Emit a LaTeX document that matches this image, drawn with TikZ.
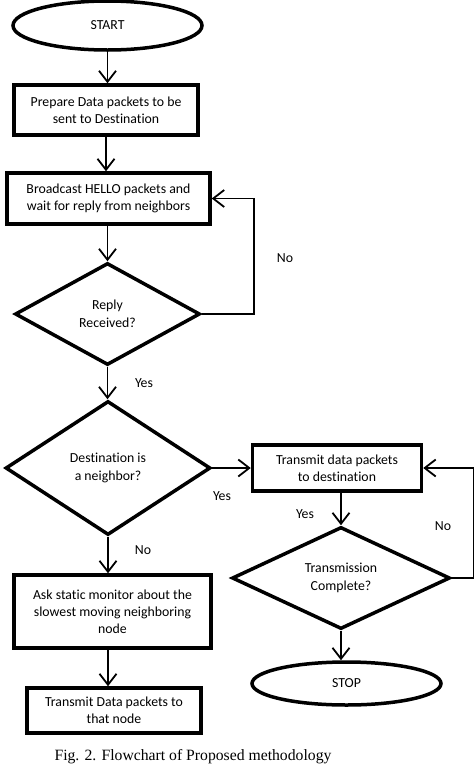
\documentclass[tikz,border=0pt]{standalone}
\usepackage{fontspec}
\setmainfont{Carlito}[Ligatures=CommonOff]
\newfontfamily\capfont{Liberation Serif}
\usetikzlibrary{shapes.geometric,arrows.meta}

\begin{document}
\begin{tikzpicture}[
    x=1pt, y=-1pt,
    term/.style={ellipse, draw, line width=3.5pt, inner sep=0pt, font=\fontsize{13.8}{17}\selectfont},
    proc/.style={rectangle, draw, line width=3.5pt, align=center, inner sep=0pt, font=\fontsize{13.8}{17}\selectfont},
    dec/.style={diamond, draw, line width=3.5pt, align=center, inner sep=0pt, font=\fontsize{13.8}{18}\selectfont},
    arr/.style={-{Straight Barb[length=11pt, width=17pt]}, line width=1.8pt},
    lbl/.style={font=\fontsize{13.8}{17}\selectfont}
]
    \useasboundingbox (0,0) rectangle (474,769);

    % left column
    \node [term, minimum width=189pt, minimum height=49pt] (start) at (107.5,25.5) {START};
    \node [proc, minimum width=184pt, minimum height=50pt] (prep) at (106,110) {Prepare Data packets to be\\sent to Destination};
    \node [proc, minimum width=203pt, minimum height=51pt] (hello) at (108.5,198.5) {Broadcast HELLO packets and\\wait for reply from neighbors};
    \node [dec, minimum width=185pt, minimum height=102pt] (reply) at (107.5,314) {Reply\\Received?};
    \node [dec, minimum width=205pt, minimum height=134pt] (dest) at (108,468) {Destination is\\a neighbor?};
    \node [proc, minimum width=197pt, minimum height=73pt] (ask) at (112.5,611.5) {Ask static monitor about the\\slowest moving neighboring\\node};
    \node [proc, minimum width=174pt, minimum height=45pt] (txnode) at (114,710.5) {Transmit Data packets to\\that node};

    % right column
    \node [proc, minimum width=169pt, minimum height=46pt] (txdest) at (337,468) {Transmit data packets\\to destination};
    \node [dec, minimum width=218pt, minimum height=101pt] (done) at (341,578) {Transmission\\Complete?};
    \node [term, minimum width=189pt, minimum height=43pt] (stop) at (346.5,683.5) {STOP};

    \draw [arr] (start.south) -- (start.south |- prep.north);
    \draw [arr] (prep.south) -- (prep.south |- hello.north);
    \draw [arr] (reply.north |- hello.south) -- (reply.north);
    \draw [arr] (reply.south) -- (reply.south |- dest.north);
    \draw [arr] (reply.east) -- ++(52,0) |- (hello.east);
    \draw [arr] (dest.east) -- (dest.east -| txdest.west);
    \draw [arr] (dest.south) -- (dest.south |- ask.north);
    \draw [arr] (ask.south -| dest.south) -- (dest.south |- txnode.north);
    \draw [arr] (done.north |- txdest.south) -- (done.north);
    \draw [arr] (done.east) -- ++(22,0) |- (txdest.east);
    \draw [arr] (done.south) -- (done.south |- stop.north);

    \node [lbl] (no1) at (285,258) {No};
    \node [lbl] (yes1) at (144,383) {Yes};
    \node [lbl] (yes2) at (222,496) {Yes};
    \node [lbl] (no2) at (143,550) {No};
    \node [lbl] (yes3) at (305,514) {Yes};
    \node [lbl] (no3) at (443,526) {No};

    \node [font=\capfont\fontsize{15.7}{18}\selectfont] (cap) at (193,757) {Fig. 2. Flowchart of Proposed methodology};
\end{tikzpicture}
\end{document}
